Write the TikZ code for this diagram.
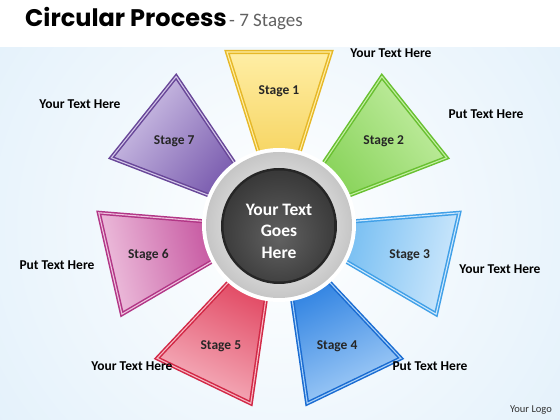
\documentclass[tikz,border=0pt]{standalone}
\usepackage{fontspec}
\setmainfont{Carlito}
\newfontfamily\titlefont{Poppins}
\pgfdeclareradialshading{ringshade}{\pgfpointorigin}{color(0bp)=(white); color(39bp)=(black!35); color(41bp)=(black!16); color(45bp)=(black!4); color(48.5bp)=(black!9); color(50bp)=(black!30)}
\pgfdeclareradialshading{sphereshade}{\pgfpoint{0bp}{-6bp}}{color(0bp)=(black!62); color(28bp)=(black!78); color(44bp)=(black!92); color(50bp)=(black!88)}

\begin{document}
\begin{tikzpicture}[x=1pt,y=1pt,
  petal/.style={line width=1.5pt, double distance=1.1pt, line join=miter},
  stagelbl/.style={font=\bfseries\fontsize{13.5}{16}\selectfont, text=black!85},
  sidelbl/.style={font=\bfseries\fontsize{13.5}{16}\selectfont, text=black}]
\definecolor{bgblue}{RGB}{208,231,248}
\definecolor{ya}{RGB}{230,184,40}
\definecolor{yb}{RGB}{255,238,165}
\definecolor{yc}{RGB}{246,212,96}
\definecolor{ga}{RGB}{104,192,48}
\definecolor{gb}{RGB}{196,238,164}
\definecolor{gc}{RGB}{138,212,92}
\definecolor{la}{RGB}{64,160,232}
\definecolor{lb}{RGB}{206,232,252}
\definecolor{lc}{RGB}{118,190,242}
\definecolor{ba}{RGB}{26,108,210}
\definecolor{bb}{RGB}{168,208,248}
\definecolor{bc}{RGB}{50,132,226}
\definecolor{ra}{RGB}{210,40,70}
\definecolor{rb}{RGB}{246,182,194}
\definecolor{rc}{RGB}{226,74,100}
\definecolor{ma}{RGB}{178,54,134}
\definecolor{mb}{RGB}{238,194,222}
\definecolor{mc}{RGB}{198,86,160}
\definecolor{pa}{RGB}{104,70,152}
\definecolor{pb}{RGB}{210,198,232}
\definecolor{pc}{RGB}{124,94,176}

\useasboundingbox (-279,-195) rectangle (281,225);
\fill[white] (-279,-195) rectangle (281,225);
\begin{scope}
\clip (-279,-195) rectangle (281,177);
\fill[inner color=white, outer color=bgblue] (0,0) circle (600);
\end{scope}

\node[anchor=base west, inner sep=0] (title) at (-254,198) {{\titlefont\bfseries\fontsize{24}{27}\selectfont Circular Process} {\fontsize{19}{22}\selectfont\color{black!62}- 7 Stages}};

\draw[petal, draw=ya, double=yb, top color=yb, bottom color=yc, shading angle=0, rotate=0] (-18,65) -- (-52,173) -- (52,173) -- (18,65) -- cycle;
\draw[petal, draw=ga, double=gb, top color=gb, bottom color=gc, shading angle=-51.43, rotate=-51.43] (-18,65) -- (-52,173) -- (52,173) -- (18,65) -- cycle;
\draw[petal, draw=la, double=lb, top color=lb, bottom color=lc, shading angle=-102.86, rotate=-102.86] (-18,65) -- (-52,173) -- (52,173) -- (18,65) -- cycle;
\draw[petal, draw=ba, double=bb, top color=bb, bottom color=bc, shading angle=-154.29, rotate=-154.29] (-18,65) -- (-52,173) -- (52,173) -- (18,65) -- cycle;
\draw[petal, draw=ra, double=rb, top color=rb, bottom color=rc, shading angle=-205.71, rotate=-205.71] (-18,65) -- (-52,173) -- (52,173) -- (18,65) -- cycle;
\draw[petal, draw=ma, double=mb, top color=mb, bottom color=mc, shading angle=-257.14, rotate=-257.14] (-18,65) -- (-52,173) -- (52,173) -- (18,65) -- cycle;
\draw[petal, draw=pa, double=pb, top color=pb, bottom color=pc, shading angle=-308.57, rotate=-308.57] (-18,65) -- (-52,173) -- (52,173) -- (18,65) -- cycle;

\fill[white] (0,0) circle (77);
\shade[shading=ringshade] (0,0) circle (73);
\fill[black!85] (0,-1) circle (58);
\shade[shading=sphereshade] (0,-1) circle (55.5);

\node[align=center, text=white, font=\bfseries\fontsize{17.5}{21.5}\selectfont] (hub) at (0,-6) {Your Text\\Goes\\Here};

\node[stagelbl] (s1) at (90:134) {Stage 1};
\node[stagelbl] (s2) at (38.57:134) {Stage 2};
\node[stagelbl] (s3) at (-12.86:134) {Stage 3};
\node[stagelbl] (s4) at (-64.29:134) {Stage 4};
\node[stagelbl] (s5) at (-115.71:134) {Stage 5};
\node[stagelbl] (s6) at (-167.14:134) {Stage 6};
\node[stagelbl] (s7) at (141.43:134) {Stage 7};

\node[sidelbl] (t1) at (112,172) {Your Text Here};
\node[sidelbl] (t2) at (207,111) {Put Text Here};
\node[sidelbl] (t3) at (221,-44) {Your Text Here};
\node[sidelbl] (t4) at (151,-141) {Put Text Here};
\node[sidelbl] (t5) at (-147,-141) {Your Text Here};
\node[sidelbl] (t6) at (-222,-40) {Put Text Here};
\node[sidelbl] (t7) at (-199,121) {Your Text Here};

\node[font=\fontsize{10.5}{12}\selectfont, text=black!80] (logo) at (252,-185) {Your Logo};
\end{tikzpicture}
\end{document}
